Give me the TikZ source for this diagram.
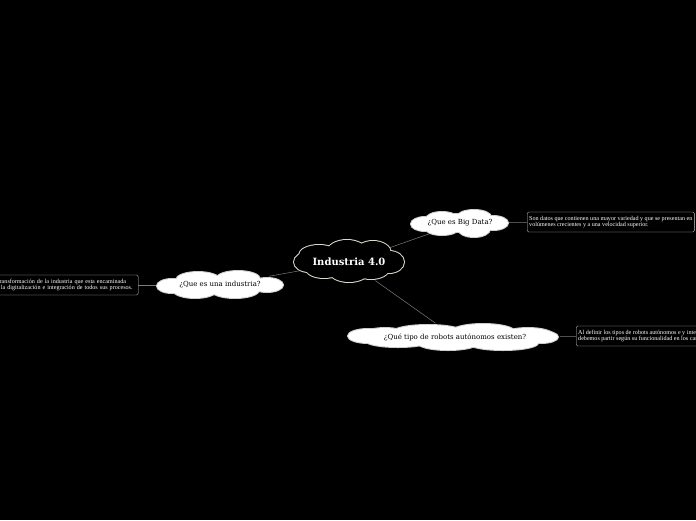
\documentclass[tikz,border=0pt]{standalone}
\usepackage{fontspec}
\setmainfont{DejaVu Serif}
\newfontfamily\notefont{Liberation Serif}
\usetikzlibrary{calc,backgrounds,shapes.geometric}
\definecolor{linegray}{HTML}{7A7A7A}
\definecolor{boxline}{HTML}{C8D2C0}
\definecolor{cloudline}{HTML}{D4DCCC}

% cloud made of puffs: #1 centre, #2 outline colour, #3 fill colour, #4 dx/dy/rx/ry puffs
\newcommand\puffcloud[4]{%
  \foreach \dx/\dy/\rx/\ry in {#4}
    \draw[#2, line width=2pt] ($(#1)+(\dx,\dy)$) ellipse ({\rx} and {\ry});
  \foreach \dx/\dy/\rx/\ry in {#4}
    \fill[#3] ($(#1)+(\dx,\dy)$) ellipse ({\rx} and {\ry});
}

\begin{document}
\begin{tikzpicture}[x=1pt,y=-1pt,
    mainidea/.style={ellipse, text=white, font=\fontsize{10}{12}\selectfont\bfseries,
      minimum width=110pt, minimum height=42pt, inner sep=0pt},
    subidea/.style={ellipse, text=black, font=\fontsize{7}{8}\selectfont, inner sep=0pt},
    notebox/.style={draw=boxline, fill=black, text=white, rounded corners=1.5pt,
      font=\notefont\fontsize{6.1}{6.6}\selectfont, align=left, inner sep=2pt, minimum height=20pt},
    link/.style={draw=linegray, line width=0.5pt}]
      \useasboundingbox (0,0) rectangle (696,520);
      \clip (0,0) rectangle (696,520);

      \node[mainidea] (industria) at (349,262) {Industria 4.0}; % central idea

      \node[subidea, minimum width=96pt, minimum height=27pt] (bigdata) at (460,223) {¿Que es Big Data?};
      \node[subidea, minimum width=126pt, minimum height=27pt] (queindustria) at (220,285) {¿Que es una industria?};
      \node[subidea, minimum width=210pt, minimum height=28pt] (robots) at (455,337) {¿Qué tipo de robots autónomos existen?};

      % notes
      \node[notebox, anchor=west] (bigdatanote) at (527,222) {Son datos que contienen una mayor variedad y que se presentan en\\volúmenes crecientes y a una velocidad superior.};
      \node[notebox, anchor=west, text width=140pt] (industrianote) at (-6,285) {Transformación de la industria que esta encaminada\\a la digitalización e integración de todos sus procesos.};
      \node[notebox, anchor=west] (robotsnote) at (576,336) {Al definir los tipos de robots autónomos e y inteligentes\\debemos partir según su funcionalidad en los campos};

      \begin{scope}[on background layer]
        \fill[black] (0,0) rectangle (696,520); % background

        \draw[link] (industria) -- (bigdata);
        \draw[link] (industria) -- (queindustria);
        \draw[link] (industria) -- (robots);
        \draw[link] (bigdata) -- (bigdatanote);
        \draw[link] (queindustria) -- (industrianote);
        \draw[link] (robots) -- (robotsnote);

        \puffcloud{industria}{cloudline}{black}{0/0/40/14, -30/-7/20/10, -2/-10/20/12, 24/-9/18/12, 40/0/15/11,
          22/7/18/10, 0/9/20/11, -25/7/18/9, -40/0/15/10} % central cloud
        \puffcloud{bigdata}{gray!40}{white}{0/0/38/9, -35/1/14/7, -18/-4/16/7, 14/-6/17/7, 33/0/15/7,
          -18/5/17/7, 14/6/16/8}
        \puffcloud{queindustria}{gray!40}{white}{0/0/50/9, -48/1/15/7, -22/-5/22/8, 18/-6/22/8, 47/0/16/7,
          -25/5/22/8, 15/5/24/8}
        \puffcloud{robots.center}{gray!40}{white}{0/0/85/8, -87/-1/20/7, -70/-3/20/6, -27/-5/35/7, 28/-5/32/8,
          73/-2/25/7, 86/0/17/6, -57/4/32/6, -7/6/30/7, 48/6/35/7}
      \end{scope}
    \end{tikzpicture}
\end{document}
